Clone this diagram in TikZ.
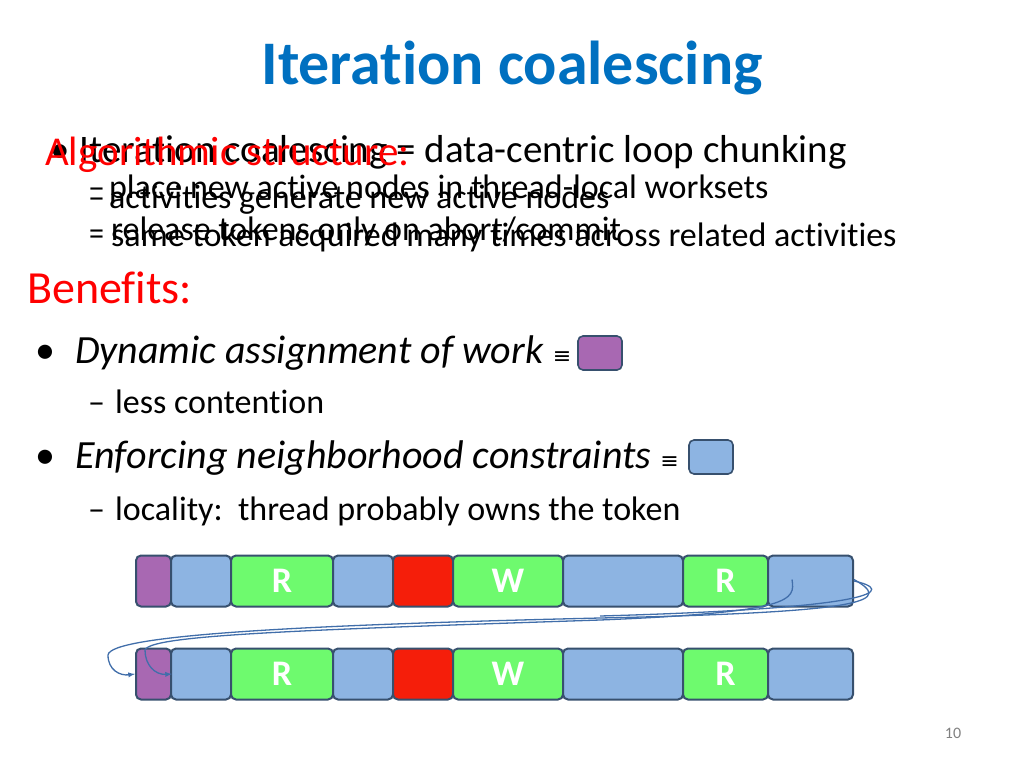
\documentclass[tikz,border=0pt]{standalone}
\usepackage{fontspec}
\setmainfont{Carlito}[Ligatures={NoCommon}]
\newfontfamily\symfont{DejaVu Sans}
\usetikzlibrary{positioning}
\definecolor{titleblue}{RGB}{0,112,192}
\definecolor{cellblue}{RGB}{141,180,226}
\definecolor{cellgreen}{RGB}{110,250,110}
\definecolor{cellred}{RGB}{245,30,10}
\definecolor{cellpurple}{RGB}{168,104,178}
\definecolor{edgeblue}{RGB}{55,80,110}
\definecolor{arrowblue}{RGB}{65,110,170}
\begin{document}
\begin{tikzpicture}[x=1pt,y=-1pt,>=latex,
  cell/.style={draw=edgeblue,line width=2pt,rounded corners=5pt,minimum height=51pt,
    inner sep=0pt,font=\fontsize{36}{36}\selectfont\bfseries,text=white},
  txt/.style={anchor=base west,inner sep=0pt},
  big/.style={txt,font=\fontsize{39}{39}\selectfont},
  mid/.style={txt,font=\fontsize{34}{34}\selectfont},
  small/.style={txt,font=\fontsize{34}{34}\selectfont}]
  \useasboundingbox (0,0) rectangle (1024,768);

  \node[font=\fontsize{62}{62}\selectfont\bfseries,text=titleblue] (title) at (512,68) {Iteration coalescing};

  % overlapping text of the slide
  \node[big] (iter) at (50,162) {•\hspace{10pt}Iteration coalescing = data-centric loop chunking};
  \node[txt,font=\fontsize{41}{41}\selectfont,text=red] (algo) at (45,165) {Algorithmic structure:};
  \node[small] (place) at (88,198) {–\hspace{4pt}place new active nodes in thread-local worksets};
  \node[mid] (activ) at (88,208) {–\hspace{4pt}activities generate new active nodes};
  \node[small] (release) at (88,240) {–\hspace{6pt}release tokens only on abort/commit};
  \node[mid] (same) at (88,246) {–\hspace{6pt}same token acquired many times across related activities};

  \node[txt,font=\fontsize{46}{46}\selectfont,text=red] (ben) at (27,303) {Benefits:};
  \node[txt,font=\fontsize{40}{40}\selectfont] (dyn) at (35,363) {•\hspace{20pt}\textit{Dynamic assignment of work} {\symfont\fontsize{22}{22}\selectfont ≡}};
  \node[cell,fill=cellpurple,minimum width=44pt,minimum height=34pt,line width=1.6pt] (dynbox) at (600,353) {};
  \node[small] (less) at (88,413) {–\hspace{10pt}less contention};
  \node[txt,font=\fontsize{40}{40}\selectfont] (enf) at (35,468) {•\hspace{20pt}\textit{Enforcing neighborhood constraints} {\symfont\fontsize{22}{22}\selectfont ≡}};
  \node[cell,fill=cellblue,minimum width=44pt,minimum height=34pt,line width=1.6pt] (enfbox) at (711,457) {};
  \node[small] (loc) at (88,520) {–\hspace{10pt}locality:\ \ thread probably owns the token};

  % two rows of cells
  \foreach \row/\y in {t/581,b/674}{
    \foreach \name/\xa/\xb/\col/\lab in {p/136/171/cellpurple/,
      a/171/231/cellblue/,r1/231/333/cellgreen/R,c/333/393/cellblue/,
      x/393/453/cellred/,w/453/563/cellgreen/W,d/563/683/cellblue/,
      r2/683/768/cellgreen/R,e/768/853/cellblue/}
      \node[cell,fill=\col,minimum width={\xb-\xa}] (\row\name) at ({(\xa+\xb)/2},\y) {\lab};
  }

  \draw[->,arrowblue,line width=1.3pt] (te.north east) ++(0,25) coordinate (s1)
    .. controls (890,600) and (880,612) .. (600,618)
    .. controls (300,625) and (110,635) .. (108,655)
    .. controls (108,670) and (120,676) .. (bp.west);
  \draw[->,arrowblue,line width=1.3pt] (te.north west) ++(25,25) coordinate (s2)
    .. controls (795,600) and (795,612) .. (600,620)
    .. controls (300,630) and (150,635) .. (145,650)
    .. controls (145,665) and (155,675) .. (bp.east);
  \draw[arrowblue,line width=1.3pt] (te.east) .. controls (895,590) and (885,608) .. (600,616);

  \node[font=\fontsize{16}{16}\selectfont,text=gray] (num) at (953,733) {10};
\end{tikzpicture}
\end{document}
